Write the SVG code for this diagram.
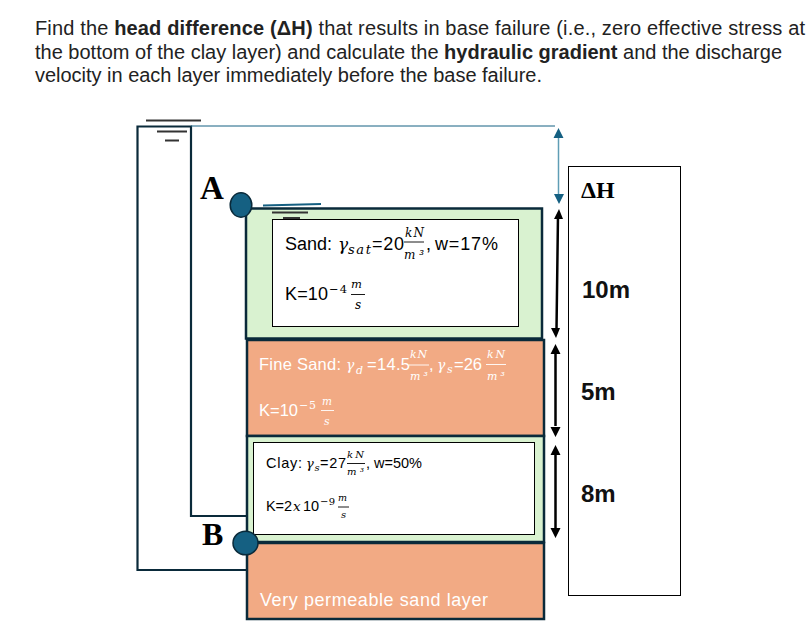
<svg xmlns="http://www.w3.org/2000/svg" width="812" height="641" viewBox="0 0 812 641">
<style>
text{font-family:"Liberation Sans",Arial,sans-serif;fill:#000}
.q{font-size:20px;fill:#222}
.b{font-weight:bold}
.m{font-family:"DejaVu Serif","Liberation Serif",serif;font-style:italic}
.u{font-family:"DejaVu Serif","Liberation Serif",serif}
.ser{font-family:"Liberation Serif",serif;font-weight:bold}
.soil{stroke:#0a2a3a;stroke-width:2.5}
.inner{fill:#fff;stroke:#000;stroke-width:1}
.pipe{fill:none;stroke:#0a2a3a;stroke-width:2.2}
.bar{stroke-width:.9;stroke:#000;fill:none}
.wbar{stroke-width:.9;stroke:#fff;fill:none}
.dim{stroke:#000;stroke-width:2.5;fill:none}
.wt{stroke:#333;stroke-width:2;fill:none}
.tip{fill:#000}
.lab{font-size:24px;font-weight:bold;fill:#111}
.w{fill:#fff}
</style>
<rect width="812" height="641" fill="#fff"/>
<g id="question">
<text class="q" x="35" y="35" textLength="770">Find the <tspan class="b">head difference (ΔH)</tspan> that results in base failure (i.e., zero effective stress at</text>
<text class="q" x="35" y="59" textLength="747">the bottom of the clay layer) and calculate the <tspan class="b">hydraulic gradient</tspan> and the discharge</text>
<text class="q" x="35" y="82" textLength="507">velocity in each layer immediately before the base failure.</text>
</g>
<g id="right-panel"><rect x="568.500" y="166.500" width="112" height="429" fill="#fff" stroke="#000" stroke-width="1"/>
<text class="ser" x="581" y="198" font-size="24">ΔH</text>
<text class="lab" x="582" y="298">10m</text>
<text class="lab" x="581" y="400">5m</text>
<text class="lab" x="581" y="502">8m</text></g>
<g id="connectors">
<path class="pipe" d="M246 570H137.500V126.500H191V516H246"/>
<path d="M191 126H555" stroke="#156082" stroke-width="1" fill="none"/>
<path d="M558.500 135V197" stroke="#5f9db5" stroke-width="1.500"/>
<path d="M558.500 128l-5 10h10zM559 204l-5-10h10z" fill="#156082"/>
<path class="dim" d="M558 215L556.500 330M555.500 348V426M555.500 452V530"/>
<path class="tip" d="M559 209l-5 10h9zM556 338l-5-10h9zM555.500 344l-5 10h10zM555.500 437l-5-10h10zM555.500 445l-5 10h10zM555.500 538l-5-10h10z"/>
</g>
<g id="sand"><rect class="soil" x="246" y="208.500" width="296" height="130" fill="#d9f2d0"/>
<rect class="inner" x="272.500" y="219.500" width="246" height="107"/>
<text x="285" y="250" font-size="18">Sand:</text><text class="m" x="338" y="250" font-size="17">γ</text><text class="m" x="348" y="254" font-size="13" textLength="23">sat</text><text x="372" y="250" font-size="18" textLength="32">=20</text>
<text class="m" x="405" y="237" font-size="12" textLength="19">kN</text><path class="bar" d="M404 242H424"/><text class="m" x="404" y="259" font-size="12" textLength="20">m³</text>
<text x="426" y="250" font-size="18">,</text><text x="435" y="250" font-size="18" textLength="63">w=17%</text>
<text x="285" y="300" font-size="18" textLength="43">K=10</text><text class="u" x="329" y="293" font-size="11.500" textLength="18">−4</text>
<text class="m" x="351" y="288" font-size="11.500" textLength="14">m</text><path class="bar" d="M351 294.500H365"/><text class="m" x="355" y="309" font-size="12">s</text></g>
<g id="fine-sand"><rect class="soil" x="247" y="340" width="297" height="96" fill="#f2aa84"/>
<text class="w" x="259" y="370" font-size="16.500" textLength="82">Fine Sand:</text><text class="m w" x="346" y="370" font-size="14">γ</text><text class="m w" x="356" y="374" font-size="11">d</text><text class="w" x="367" y="370" font-size="16.500" textLength="43">=14.5</text>
<text class="m w" x="410" y="358" font-size="11" textLength="17">kN</text><path class="wbar" d="M409 365H429"/><text class="m w" x="410" y="380" font-size="11" textLength="18">m³</text>
<text class="w" x="429" y="370" font-size="16.500">,</text><text class="m w" x="437" y="370" font-size="14">γ</text><text class="m w" x="447" y="373" font-size="11">s</text><text class="w" x="454" y="370" font-size="16.500" textLength="28">=26</text>
<text class="m w" x="487" y="358" font-size="11" textLength="18">kN</text><path class="wbar" d="M486 364.500H506"/><text class="m w" x="487" y="380" font-size="11" textLength="18">m³</text>
<text class="w" x="259" y="416" font-size="16.500" textLength="39">K=10</text><text class="u w" x="299" y="409" font-size="11" textLength="17">−5</text>
<text class="m w" x="322" y="405" font-size="10.500" textLength="12">m</text><path class="wbar" d="M321 410.500H334"/><text class="m w" x="324" y="425" font-size="11">s</text></g>
<g id="clay"><rect class="soil" x="247" y="436" width="297" height="106" fill="#d9f2d0"/>
<rect class="inner" x="253.500" y="442.500" width="281" height="92"/>
<text x="266" y="468" font-size="14.500" textLength="36">Clay:</text><text class="m" x="306" y="468" font-size="13">γ</text><text class="m" x="314.500" y="471" font-size="10">s</text><text x="320" y="468" font-size="14.500" textLength="26">=27</text>
<text class="m" x="347" y="458" font-size="10" textLength="17">kN</text><path class="bar" d="M347 463.500H365"/><text class="m" x="347" y="475" font-size="10" textLength="17">m³</text>
<text x="366" y="468" font-size="14.500">, w=50%</text>
<text x="266" y="511" font-size="14.500" textLength="26">K=2</text><text class="m" x="293" y="511" font-size="13.500">x</text><text x="303" y="511" font-size="14.500">10</text><text class="u" x="320" y="505" font-size="10" textLength="15">−9</text>
<text class="m" x="338" y="501" font-size="9.500" textLength="11">m</text><path class="bar" d="M338 507H349"/><text class="m" x="341" y="518" font-size="10">s</text></g>
<g id="permeable-sand"><rect class="soil" x="247" y="543" width="297" height="76" fill="#f2aa84"/>
<rect x="247" y="541" width="297" height="3" fill="#0a2a3a"/>
<text class="w" x="260" y="606" font-size="18" textLength="228">Very permeable sand layer</text></g>
<g id="water-table-top"><path class="wt" d="M146 120.500H201M157 131.500H187M165 140.500H179"/></g>
<g id="water-table-sand"><path d="M263 205.500L321 204" stroke="#156082" stroke-width="1.800" fill="none"/><path class="wt" d="M272 212.500H308M283 218H300"/></g>
<g id="point-a"><ellipse cx="241" cy="205" rx="10.800" ry="12.200" fill="#156082" stroke="#0a2a3a" stroke-width="1.500"/><text class="ser" x="200" y="199" font-size="33">A</text></g>
<g id="point-b"><ellipse cx="245.500" cy="543" rx="12.500" ry="11.800" fill="#156082" stroke="#0a2a3a" stroke-width="1.500"/><text class="ser" x="202" y="545" font-size="32">B</text></g>
</svg>
